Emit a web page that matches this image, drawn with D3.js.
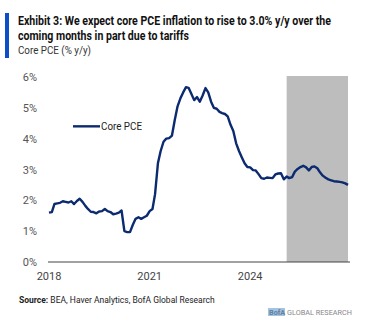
<!DOCTYPE html>
<html>
<head>
<meta charset="utf-8">
<script src="https://cdn.jsdelivr.net/npm/d3@7"></script>
<style>
  body { margin: 0; background: #fff; overflow: hidden; }
  svg { display: block; font-family: Roboto, "Liberation Sans", sans-serif; }
</style>
</head>
<body>
<div id="chart"></div>
<script>
// monthly core PCE % y/y, Jan 2018 .. Dec 2026
const startMonth = new Date(2018, 0, 1);
const pce2018 = [1.6, 1.62, 1.88, 1.9, 1.92, 1.97, 1.95, 1.93, 1.97, 1.88, 1.98, 2.05];
const pce2019 = [1.95, 1.82, 1.72, 1.63, 1.62, 1.58, 1.64, 1.65, 1.72, 1.65, 1.62, 1.55];
const pce2020 = [1.57, 1.6, 1.67, 1.0, 0.97, 0.97, 1.2, 1.4, 1.45, 1.4, 1.45, 1.5];
const pce2021 = [1.65, 1.72, 2.2, 3.2, 3.6, 3.9, 4.0, 4.02, 4.1, 4.6, 5.05, 5.3];
const pce2022 = [5.5, 5.67, 5.65, 5.45, 5.25, 5.35, 5.2, 5.4, 5.64, 5.5, 5.2, 5.0];
const pce2023 = [4.97, 4.87, 4.83, 4.8, 4.72, 4.45, 4.25, 3.85, 3.6, 3.4, 3.2, 3.08];
const pce2024 = [3.07, 2.98, 2.97, 2.85, 2.72, 2.7, 2.74, 2.73, 2.72, 2.84, 2.87, 2.88];
const pce2025 = [2.68, 2.77, 2.72, 2.75, 2.93, 3.02, 3.08, 3.12, 3.07, 2.97, 3.08, 3.1];
const pce2026 = [3.04, 2.9, 2.8, 2.73, 2.68, 2.65, 2.62, 2.61, 2.6, 2.58, 2.55, 2.5];
const forecastStart = new Date(2025, 1, 1);
const forecastEnd = new Date(2026, 11, 1);
const yTicks = [0, 1, 2, 3, 4, 5, 6];
const xTickYears = [2018, 2021, 2024];

const values = [].concat(pce2018, pce2019, pce2020, pce2021, pce2022, pce2023, pce2024, pce2025, pce2026);
const data = values.map((v, i) => ({ date: d3.timeMonth.offset(startMonth, i), value: v }));

const width = 377, height = 324;
const margin = { top: 77, right: 28, bottom: 62, left: 49 };
const innerHeight = height - margin.top - margin.bottom;

const svg = d3.select("#chart").append("svg")
    .attr("width", width)
    .attr("height", height);

// title block
svg.append("rect").attr("x", 5).attr("y", 13).attr("width", 4).attr("height", 45).attr("fill", "#0a4fc8");
svg.append("text").attr("x", 18).attr("y", 25)
    .attr("font-size", 12).attr("font-weight", "bold").attr("fill", "#111")
    .attr("textLength", 313).attr("lengthAdjust", "spacingAndGlyphs")
    .text("Exhibit 3: We expect core PCE inflation to rise to 3.0% y/y over the");
svg.append("text").attr("x", 18).attr("y", 40)
    .attr("font-size", 12).attr("font-weight", "bold").attr("fill", "#111")
    .attr("textLength", 171).attr("lengthAdjust", "spacingAndGlyphs")
    .text("coming months in part due to tariffs");
svg.append("text").attr("x", 18).attr("y", 54)
    .attr("font-size", 11).attr("fill", "#333")
    .attr("textLength", 73).attr("lengthAdjust", "spacingAndGlyphs")
    .text("Core PCE (% y/y)");

const xScale = d3.scaleTime()
    .domain([startMonth, new Date(2026, 11, 1)])
    .range([margin.left, margin.left + 299]);
const yScale = d3.scaleLinear()
    .domain([0, 6])
    .range([margin.top + innerHeight, margin.top]);

// forecast shading
svg.append("rect")
    .attr("x", xScale(forecastStart))
    .attr("y", yScale(6) - 1)
    .attr("width", xScale(forecastEnd) - xScale(forecastStart))
    .attr("height", yScale(0) - yScale(6) + 1)
    .attr("fill", "#bdbdbd");

// y tick labels
svg.selectAll(".ylab").data(yTicks).join("text")
    .attr("class", "ylab")
    .attr("x", margin.left - 12)
    .attr("y", d => yScale(d) + 4)
    .attr("text-anchor", "end")
    .attr("font-size", 11).attr("fill", "#555")
    .text(d => d + "%");

// x axis line + labels
svg.append("line")
    .attr("x1", xScale(startMonth) - 1).attr("x2", xScale(forecastEnd) + 2)
    .attr("y1", yScale(0)).attr("y2", yScale(0))
    .attr("stroke", "#444").attr("stroke-width", 1.2);
svg.selectAll(".xlab").data(xTickYears).join("text")
    .attr("class", "xlab")
    .attr("x", d => xScale(new Date(d, 0, 1)))
    .attr("y", yScale(0) + 18)
    .attr("text-anchor", "middle")
    .attr("font-size", 11).attr("fill", "#444")
    .text(d => d);

// line
const line = d3.line()
    .x(d => xScale(d.date))
    .y(d => yScale(d.value));
svg.append("path")
    .datum(data)
    .attr("d", line)
    .attr("fill", "none")
    .attr("stroke", "#0b2a6f")
    .attr("stroke-width", 2.4)
    .attr("stroke-linejoin", "round");

// legend
const legend = svg.append("g").attr("transform", `translate(${margin.left + 24}, ${yScale(4.4)})`);
legend.append("line").attr("x1", 0).attr("x2", 27).attr("stroke", "#0b2a6f").attr("stroke-width", 2.4);
legend.append("text").attr("x", 28).attr("y", 4).attr("font-size", 11).attr("fill", "#222")
    .attr("textLength", 41).attr("lengthAdjust", "spacingAndGlyphs")
    .text("Core PCE");

// source
const src = svg.append("text").attr("x", 19).attr("y", 303).attr("font-size", 8.5).attr("fill", "#222");
src.append("tspan").attr("font-weight", "bold").text("Source: ");
src.append("tspan").text("BEA, Haver Analytics, BofA Global Research");

// logo
svg.append("rect").attr("x", 268).attr("y", 308).attr("width", 17).attr("height", 8).attr("fill", "#9fc4e6");
const logo = svg.append("text").attr("x", 269).attr("y", 315).attr("font-size", 8)
    .attr("textLength", 83).attr("lengthAdjust", "spacingAndGlyphs");
logo.append("tspan").attr("font-weight", "bold").attr("fill", "#6a7f96").text("BofA");
logo.append("tspan").attr("fill", "#888").text(" GLOBAL RESEARCH");
</script>
</body>
</html>
